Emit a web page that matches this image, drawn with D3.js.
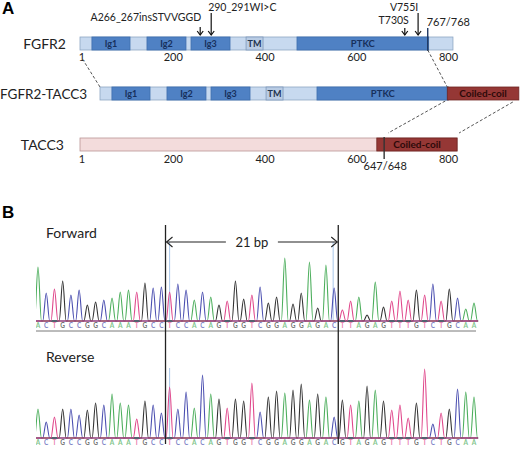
<!DOCTYPE html>
<html>
<head>
<meta charset="utf-8">
<script src="https://cdn.jsdelivr.net/npm/d3@7"></script>
<style>
  body { margin: 0; background: #fff; }
  text { font-family: Lato, "Open Sans", sans-serif; }
</style>
</head>
<body>
<div id="canvas"></div>
<script>
// ---- panel A data (amino-acid positions) ----
const aaTicks = [1, 200, 400, 600, 800];
const fgfr2Length = 813;
const fgfr2Domains = [
  ["Ig1", 26, 109], ["Ig2", 146, 231], ["Ig3", 242, 327],
  ["TM", 362, 399], ["PTKC", 473, 760]
];
const fgfr2Break = 758;           // 767/768
const fusionBreak = 757;
const fusionLength = 913;
const tacc3Length = 822;
const tacc3Coil = [647, 822];
const tacc3Break = 663;           // 647/648
const mutations = [
  { name: "A266_267insSTVVGGD", pos: 262 },
  { name: "290_291WI>C", pos: 286 },
  { name: "T730S", pos: 708 },
  { name: "V755I", pos: 737 }
];

// ---- panel B data (chromatogram peak heights) ----
const leftSeq = "ACTGCCGGCAAATGCC";
const insertSeq = "TCCACAGTGGTCGGAGGAGAC";
const fwdRightSeq = "TTAGAGTTTGTCTGCAA";
const revRightSeq = "GTAGAGTTTGTCTGCAA";
const fwdHeights = [54,28,32,40,26,31,16,19,21,23,29,31,29,38,33,34,
  29,37,31,21,29,24,16,20,40,22,26,34,18,24,63,17,28,59,13,56,33,
  11,20,24,6,39,14,20,30,21,31,26,37,20,32,23,12,18];
const revHeights = [29,16,21,29,29,23,28,35,33,44,35,33,19,37,33,25,
  51,29,46,30,63,44,39,30,39,37,55,26,41,47,45,48,54,38,44,41,21,
  38,33,37,52,48,37,28,33,20,35,69,14,25,29,49,46,41];

const baseColor = { A: "#4cae5c", C: "#4b4fb0", G: "#333333", T: "#e0478b" };

const width = 520, height = 450;
const svg = d3.select("#canvas").append("svg")
  .attr("width", width).attr("height", height);

// ================= PANEL A =================
const x = d3.scaleLinear().domain([0, 800]).range([80, 447]);
const xF = d3.scaleLinear().domain([0, 800]).range([100, 467]);
const barH = 13;
const rowY = { fgfr2: 37, fusion: 87, tacc3: 138 };

svg.append("text").attr("x", 2).attr("y", 14)
  .attr("font-size", 17).attr("font-weight", "bold")
  .style("font-family", "'Liberation Sans', Arial, sans-serif").text("A");

function rowLabel(txt, xPos, y, anchor, size) {
  svg.append("text").attr("x", xPos).attr("y", y + barH / 2 + 5)
    .attr("text-anchor", anchor).attr("font-size", size).attr("fill", "#222").text(txt);
}
rowLabel("FGFR2", 66, rowY.fgfr2, "end", 14);
rowLabel("FGFR2-TACC3", 0, rowY.fusion, "start", 13.5);
rowLabel("TACC3", 64, rowY.tacc3, "end", 14);

function seg(scale, y, a, b, fill, stroke) {
  svg.append("rect").attr("x", scale(a)).attr("y", y)
    .attr("width", scale(b) - scale(a)).attr("height", barH)
    .attr("fill", fill).attr("stroke", stroke).attr("stroke-width", 0.8);
}
function segLabel(scale, y, a, b, txt, color, size) {
  svg.append("text").attr("x", (scale(a) + scale(b)) / 2).attr("y", y + barH / 2 + 3.3)
    .attr("text-anchor", "middle").attr("font-size", size).attr("font-weight", "bold")
    .attr("fill", color).text(txt);
}
function drawDomains(scale, y) {
  fgfr2Domains.forEach(([name, a, b]) => {
    const tm = name === "TM";
    seg(scale, y, a, b, tm ? "#b9cce4" : "#4f81c4", tm ? "#7d98bb" : "#3f6fae");
    segLabel(scale, y, a, b, name, tm ? "#1e3450" : "#17305c", name === "PTKC" ? 9.5 : 9);
  });
}

// FGFR2
seg(x, rowY.fgfr2, 0, fgfr2Length, "#c7d9ef", "#8ea7c4");
drawDomains(x, rowY.fgfr2);
svg.append("line").attr("x1", x(fgfr2Break)).attr("x2", x(fgfr2Break))
  .attr("y1", 28).attr("y2", rowY.fgfr2 + barH + 1)
  .attr("stroke", "#1f3864").attr("stroke-width", 1.4);

// fusion
seg(xF, rowY.fusion, 0, fusionBreak, "#c7d9ef", "#8ea7c4");
drawDomains(xF, rowY.fusion);
seg(xF, rowY.fusion, fusionBreak, fusionLength, "#953735", "#6e2422");
segLabel(xF, rowY.fusion, fusionBreak, fusionLength, "Coiled-coil", "#2e0a0a", 10);

// TACC3
seg(x, rowY.tacc3, 0, tacc3Length, "#f3dcdc", "#b99595");
seg(x, rowY.tacc3, tacc3Coil[0], tacc3Coil[1], "#953735", "#6e2422");
segLabel(x, rowY.tacc3, tacc3Coil[0], tacc3Coil[1], "Coiled-coil", "#2e0a0a", 10);
svg.append("line").attr("x1", x(tacc3Break)).attr("x2", x(tacc3Break))
  .attr("y1", rowY.tacc3 - 1).attr("y2", 159)
  .attr("stroke", "#333").attr("stroke-width", 1.4);
svg.append("text").attr("x", x(tacc3Break) + 1).attr("y", 170)
  .attr("text-anchor", "middle").attr("font-size", 11).attr("fill", "#222").text("647/648");

// tick labels
[rowY.fgfr2 + 24, rowY.tacc3 + 25].forEach(ty => {
  svg.selectAll(null).data(aaTicks).enter().append("text")
    .attr("x", d => x(d) + 1.5).attr("y", ty)
    .attr("text-anchor", "middle").attr("font-size", 11).attr("fill", "#222")
    .text(d => d);
});

// mutation arrows
const mutLayout = {
  "A266_267insSTVVGGD": { top: 27, ty: 21, anchor: "end", dx: 1 },
  "290_291WI>C": { top: 13, ty: 10.5, anchor: "start", dx: -3 },
  "T730S": { top: 28, ty: 24, anchor: "end", dx: 4 },
  "V755I": { top: 13, ty: 10.5, anchor: "middle", dx: -14 }
};
const tip = rowY.fgfr2 - 2;
mutations.forEach(m => {
  const L = mutLayout[m.name], mx = x(m.pos);
  svg.append("line").attr("x1", mx).attr("x2", mx).attr("y1", L.top).attr("y2", tip)
    .attr("stroke", "#111").attr("stroke-width", 1.2);
  svg.append("path").attr("d", `M${mx - 3},${tip - 4}L${mx},${tip}L${mx + 3},${tip - 4}`)
    .attr("fill", "none").attr("stroke", "#111").attr("stroke-width", 1.2);
  svg.append("text").attr("x", mx + L.dx).attr("y", L.ty)
    .attr("text-anchor", L.anchor).attr("font-size", 10.5).attr("fill", "#222").text(m.name);
});
svg.append("text").attr("x", x(fgfr2Break) - 1).attr("y", 26)
  .attr("font-size", 11).attr("fill", "#222").text("767/768");

// dashed connectors
const dashes = [
  [x(1) + 2, 59, xF(0), rowY.fusion],
  [x(fgfr2Break), rowY.fgfr2 + barH, xF(fusionBreak), rowY.fusion],
  [xF(fusionBreak) - 2, rowY.fusion + barH + 1, x(tacc3Break) + 4, rowY.tacc3 - 5],
  [xF(fusionLength) - 6, rowY.fusion + barH + 2, x(tacc3Length) + 2, rowY.tacc3 - 5]
];
svg.selectAll(null).data(dashes).enter().append("line")
  .attr("x1", d => d[0]).attr("y1", d => d[1]).attr("x2", d => d[2]).attr("y2", d => d[3])
  .attr("stroke", "#555").attr("stroke-width", 1).attr("stroke-dasharray", "3,2");

// ================= PANEL B =================
svg.append("text").attr("x", 2).attr("y", 218)
  .attr("font-size", 17).attr("font-weight", "bold")
  .style("font-family", "'Liberation Sans', Arial, sans-serif").text("B");

const fwdSeq = leftSeq + insertSeq + fwdRightSeq;
const revSeq = leftSeq + insertSeq + revRightSeq;
const xs = d3.scaleLinear().domain([0, fwdSeq.length - 1]).range([38, 474]);
const cut1 = leftSeq.length - 0.5;
const cut2 = leftSeq.length + insertSeq.length - 0.5;

svg.append("defs").append("clipPath").attr("id", "traceClip")
  .append("rect").attr("x", 36).attr("y", 200).attr("width", 445).attr("height", 250);

function trace(seq, heights, baseY, label, labelY) {
  const y = d3.scaleLinear().domain([0, 70]).range([baseY, baseY - 70]);
  const g = svg.append("g").attr("clip-path", "url(#traceClip)");
  const line = d3.line().x(d => xs(d[0])).y(d => y(d[1])).curve(d3.curveMonotoneX);
  Object.keys(baseColor).forEach(b => {
    const pts = [[-0.5, 0]];
    for (let i = 0; i < seq.length; i++) {
      if (seq[i] === b) pts.push([i - 0.42, 0], [i, heights[i]], [i + 0.42, 0]);
    }
    pts.push([seq.length - 0.5, 0]);
    g.append("path").attr("d", line(pts)).attr("fill", "none")
      .attr("stroke", baseColor[b]).attr("stroke-width", 1.1);
  });
  g.selectAll(null).data(seq.split("")).enter().append("text")
    .attr("x", (d, i) => xs(i)).attr("y", baseY + 7)
    .attr("text-anchor", "middle").attr("font-size", 6.5).attr("font-weight", "bold")
    .attr("fill", d => baseColor[d]).attr("opacity", 0.7).text(d => d);
  svg.append("text").attr("x", 46).attr("y", labelY)
    .attr("font-size", 14).attr("fill", "#222").text(label);
}

// cursor marks
[[xs(16), 242, 321], [xs(36) - 1, 242, 321], [xs(16), 368, 438]].forEach(c => {
  svg.append("line").attr("x1", c[0]).attr("x2", c[0]).attr("y1", c[1]).attr("y2", c[2])
    .attr("stroke", "#a9c7ea").attr("stroke-width", 1);
});

trace(fwdSeq, fwdHeights, 321, "Forward", 238);
trace(revSeq, revHeights, 438, "Reverse", 362);

svg.append("line").attr("x1", 36).attr("x2", 476).attr("y1", 331).attr("y2", 331)
  .attr("stroke", "#555").attr("stroke-width", 0.8);

// boundaries of the insertion
[cut1, cut2].forEach(c => {
  svg.append("line").attr("x1", xs(c)).attr("x2", xs(c)).attr("y1", 225).attr("y2", 444)
    .attr("stroke", "#222").attr("stroke-width", 1.3);
});

const ay = 242, mid = (xs(cut1) + xs(cut2)) / 2;
svg.append("line").attr("x1", xs(cut1) + 1).attr("x2", mid - 26).attr("y1", ay).attr("y2", ay)
  .attr("stroke", "#222").attr("stroke-width", 1.1);
svg.append("line").attr("x1", mid + 26).attr("x2", xs(cut2) - 1).attr("y1", ay).attr("y2", ay)
  .attr("stroke", "#222").attr("stroke-width", 1.1);
svg.append("path")
  .attr("d", `M${xs(cut1) + 7},${ay - 5}L${xs(cut1) + 1},${ay}L${xs(cut1) + 7},${ay + 5}` +
             `M${xs(cut2) - 7},${ay - 5}L${xs(cut2) - 1},${ay}L${xs(cut2) - 7},${ay + 5}`)
  .attr("fill", "none").attr("stroke", "#222").attr("stroke-width", 1.1);
svg.append("text").attr("x", mid).attr("y", ay + 5).attr("text-anchor", "middle")
  .attr("font-size", 13).attr("fill", "#222").text(`${insertSeq.length} bp`);
</script>
</body>
</html>
